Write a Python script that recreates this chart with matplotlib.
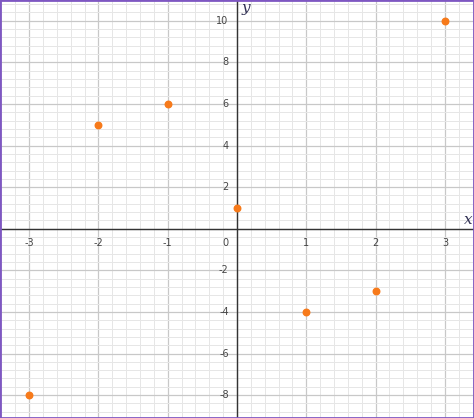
import matplotlib.pyplot as plt
from matplotlib.ticker import MultipleLocator

xs = [-3, -2, -1, 0, 1, 2, 3]
ys = [-8, 5, 6, 1, -4, -3, 10]
xticks = [-3, -2, -1, 1, 2, 3]
yticks = [-8, -6, -4, -2, 2, 4, 6, 8, 10]

fig = plt.figure(figsize=(4.74, 4.18), dpi=100)
ax = fig.add_axes([0, 0, 1, 1])
ax.set_xlim(-3.42, 3.42)
ax.set_ylim(-9.1, 11.0)

ax.xaxis.set_minor_locator(MultipleLocator(0.2))
ax.yaxis.set_minor_locator(MultipleLocator(0.4))
ax.xaxis.set_major_locator(MultipleLocator(1))
ax.yaxis.set_major_locator(MultipleLocator(2))
ax.grid(which='minor', color='#e6e6e6', lw=0.7)
ax.grid(which='major', color='#c8c8c8', lw=0.9)
ax.tick_params(which='both', length=0, labelbottom=False, labelleft=False)

ax.axhline(0, color='#333333', lw=1)
ax.axvline(0, color='#333333', lw=1)

for t in xticks:
    ax.text(t, -0.45, str(t), ha='center', va='top', fontsize=7, color='#444444')
for t in yticks:
    ax.text(-0.12, t, str(t), ha='right', va='center', fontsize=7, color='#444444')
ax.text(-0.12, -0.45, '0', ha='right', va='top', fontsize=7, color='#444444')

ax.text(3.34, 0.1, 'x', ha='center', va='bottom', fontsize=11, style='italic', family='DejaVu Serif', color='#333355')
ax.text(0.06, 10.6, 'y', ha='left', va='center', fontsize=11, style='italic', family='DejaVu Serif', color='#333355')

ax.scatter(xs, ys, s=22, color='#f77a1a', zorder=5)

for s in ax.spines.values():
    s.set_color('#7e57c2')
    s.set_linewidth(2)

fig.savefig('out.png', dpi=100)
